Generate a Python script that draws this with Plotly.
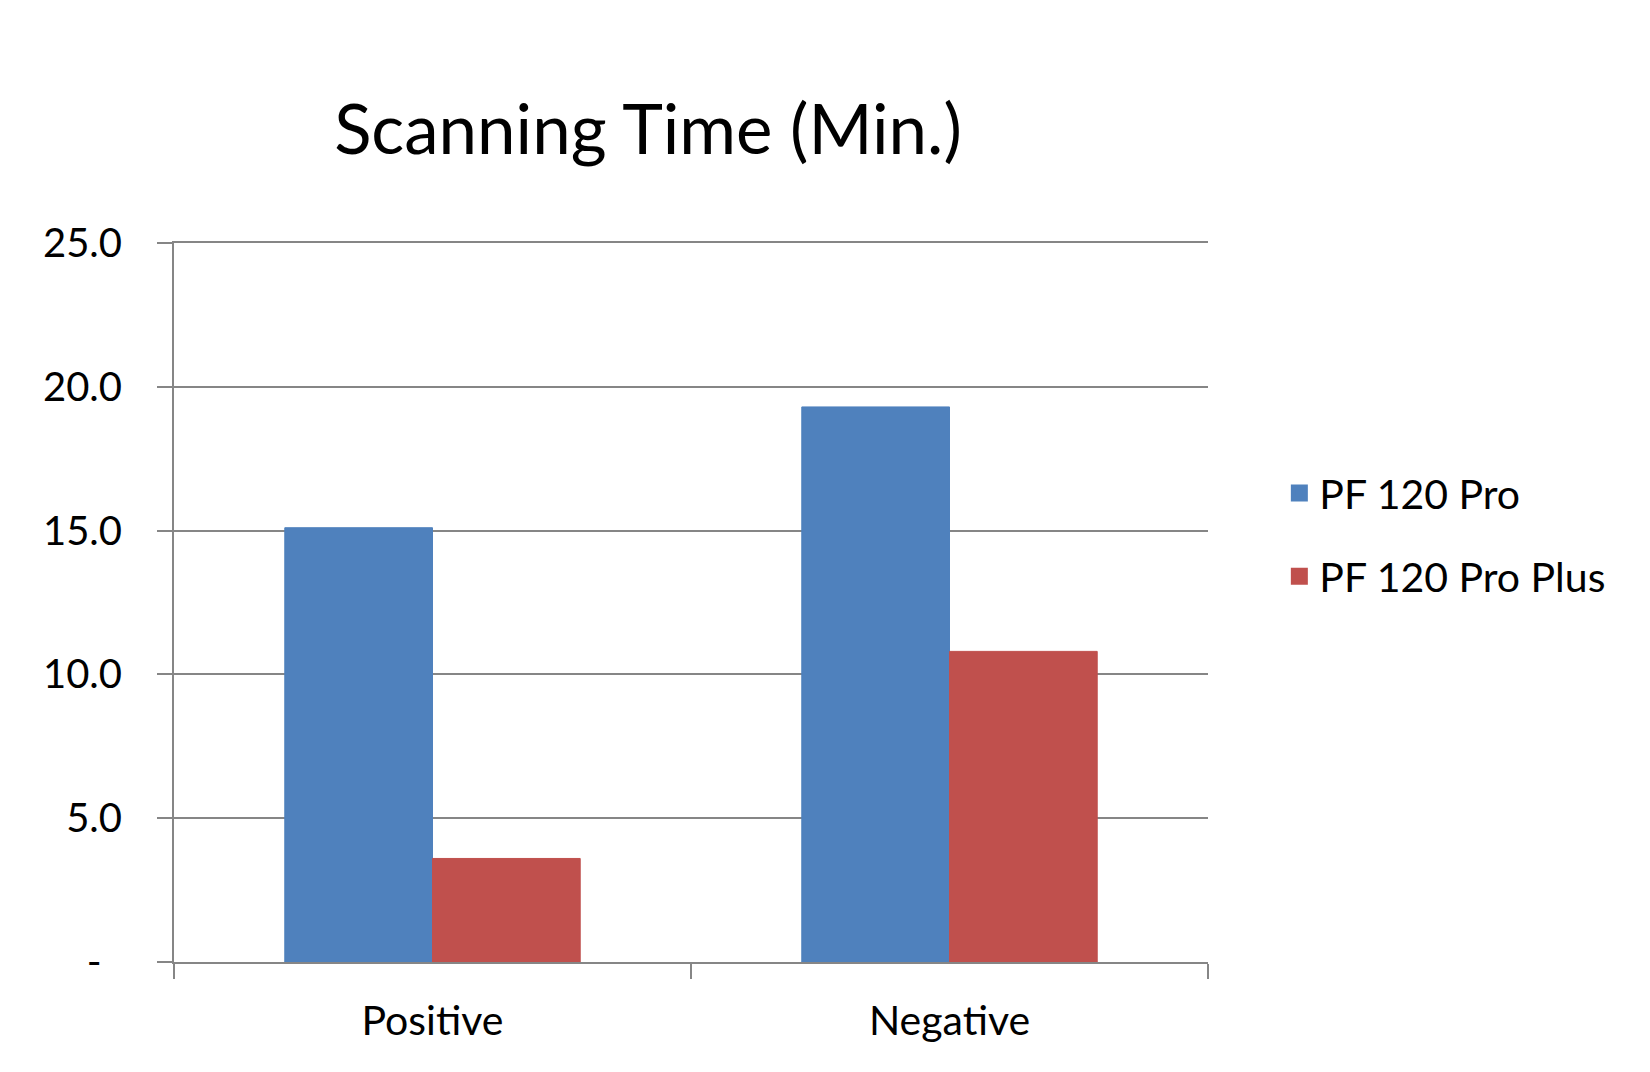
import plotly.graph_objects as go

categories = ["Positive", "Negative"]
series_names = ["PF 120 Pro", "PF 120 Pro Plus"]
pro_values = [15.1, 19.3]
pro_plus_values = [3.6, 10.8]
colors = ["#4F81BD", "#C0504D"]
tick_vals = [0, 5, 10, 15, 20, 25]
tick_text = ["-\u00a0\u00a0", "5.0", "10.0", "15.0", "20.0", "25.0"]

FONT = "Lato, 'Open Sans', sans-serif"
GRID = "#868686"

fig = go.Figure()
for name, vals, col in zip(series_names, [pro_values, pro_plus_values], colors):
    fig.add_trace(go.Bar(
        x=categories, y=vals, name=name, showlegend=False,
        marker=dict(color=col, line=dict(color=col, width=1)),
    ))
# legend entries (larger swatches), on hidden axes so they do not take bar slots
for name, col, grp in zip(series_names, colors, ["a", "b"]):
    fig.add_trace(go.Bar(
        x=[None], y=[None], name=name, legendgroup=grp, showlegend=True,
        xaxis="x2", yaxis="y2",
        marker=dict(color=col, line=dict(color=col, width=5)),
    ))

fig.update_layout(
    width=1650, height=1072,
    paper_bgcolor="white", plot_bgcolor="white",
    margin=dict(l=174, r=442, t=243, b=110),
    barmode="group", bargap=0.4286, bargroupgap=0,
    font=dict(family=FONT, color="black", size=40),
    title=dict(text="Scanning Time (Min.)", x=648 / 1650, xanchor="center",
               y=1 - 130 / 1072, yanchor="middle",
               font=dict(family=FONT, size=69, color="black")),
    legend=dict(x=1.069, y=0.594, xanchor="left", yanchor="middle",
                font=dict(family=FONT, size=41), tracegroupgap=27,
                bgcolor="rgba(0,0,0,0)", itemclick=False),
    showlegend=True,
    xaxis=dict(
        type="category", showline=True, linecolor=GRID, linewidth=2, mirror=True,
        ticks="outside", tickson="boundaries", ticklen=15, tickwidth=2, tickcolor=GRID,
        showgrid=False, tickfont=dict(family=FONT, size=41), ticklabelstandoff=22,
    ),
    yaxis=dict(
        range=[0, 25], tickmode="array", tickvals=tick_vals, ticktext=tick_text,
        showline=True, linecolor=GRID, linewidth=2,
        ticks="outside", ticklen=15, tickwidth=2, tickcolor=GRID,
        showgrid=True, gridcolor=GRID, gridwidth=2,
        zeroline=False, ticklabelstandoff=27,
        tickfont=dict(family=FONT, size=40),
    ),
    xaxis2=dict(overlaying="x", visible=False, showgrid=False, zeroline=False),
    yaxis2=dict(overlaying="y", visible=False, showgrid=False, zeroline=False),
)

fig.write_html("out.html", config={"displayModeBar": False},
               post_script="document.body.style.margin='0';")
